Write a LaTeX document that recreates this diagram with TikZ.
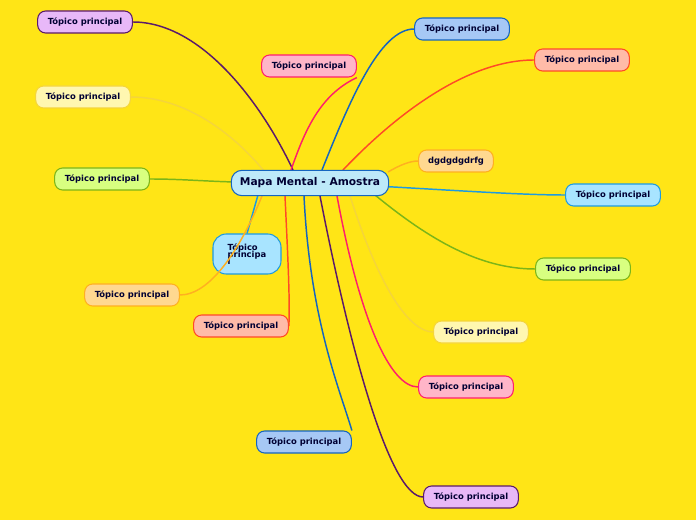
\documentclass[tikz,border=0pt]{standalone}
\usepackage{fontspec}
\setmainfont{DejaVu Sans}
\begin{document}
\begin{tikzpicture}[x=0.75pt,y=-0.75pt,
 tp/.style={draw=#1, line width=0.8pt, rounded corners=6pt, minimum width=71pt, minimum height=16.5pt, inner sep=1pt, font=\bfseries\fontsize{6.3}{7}\selectfont, text=black!80!blue},
 ln/.style={draw=#1, line width=1.1pt}]
\fill[yellow!90!orange!60!yellow] (0,0) rectangle (696,520);
\definecolor{bg}{HTML}{FFE516}
\fill[bg] (0,0) rectangle (696,520);
\useasboundingbox (0,0) rectangle (696,520);
\definecolor{purB}{HTML}{5B1A6B}\definecolor{purF}{HTML}{E8B8F8}
\definecolor{pinB}{HTML}{FF1F6B}\definecolor{pinF}{HTML}{FFB5C8}
\definecolor{bluB}{HTML}{1565C0}\definecolor{bluF}{HTML}{A6C8F5}
\definecolor{redB}{HTML}{FF4A26}\definecolor{redF}{HTML}{FFBBA8}
\definecolor{pylB}{HTML}{F5D53A}\definecolor{pylF}{HTML}{FFF7B0}
\definecolor{oraB}{HTML}{FFB020}\definecolor{oraF}{HTML}{FFD890}
\definecolor{grnB}{HTML}{7CB518}\definecolor{grnF}{HTML}{D8FF80}
\definecolor{cyaB}{HTML}{1E9BE0}\definecolor{cyaF}{HTML}{A8E4FF}
\definecolor{cenF}{HTML}{BDE9F9}
% starts
\coordinate (s1) at (293,170);\coordinate (s2) at (291,170);\coordinate (s3) at (322,170);
\coordinate (s4) at (343,170);\coordinate (s5) at (268,176);\coordinate (s6) at (388,172);
\coordinate (s7) at (234,182);\coordinate (s8) at (375,186);\coordinate (s9) at (375,195);
\coordinate (s10) at (258,195);\coordinate (s11) at (262,196);\coordinate (s12) at (285,196);
\coordinate (s13) at (350,196);\coordinate (s14) at (337,196);\coordinate (s15) at (304,196);
\coordinate (s16) at (320,196);
% nodes
\node[tp={purB},fill=purF,minimum width=71pt] (n1) at (85,22) {Tópico principal};
\node[tp={pinB},fill=pinF] (n2) at (309,66) {Tópico principal};
\node[tp={bluB},fill=bluF] (n3) at (462,29) {Tópico principal};
\node[tp={redB},fill=redF] (n4) at (582,60) {Tópico principal};
\node[tp={pylB},fill=pylF] (n5) at (83,97) {Tópico principal};
\node[tp={oraB},fill=oraF,minimum width=56pt] (n6) at (456,161) {dgdgdgdrfg};
\node[tp={grnB},fill=grnF] (n7) at (102,179) {Tópico principal};
\node[tp={cyaB},fill=cyaF] (n8) at (613,195) {Tópico principal};
\node[tp={cyaB},fill=cyaF,minimum width=51pt,minimum height=30pt,rounded corners=10pt,align=left] (n9) at (247,254) {Tópico\\[-2pt]principa\\[-2pt]l};
\node[tp={grnB},fill=grnF] (n10) at (583,269) {Tópico principal};
\node[tp={oraB},fill=oraF] (n11) at (132,295) {Tópico principal};
\node[tp={redB},fill=redF] (n12) at (241,326) {Tópico principal};
\node[tp={pylB},fill=pylF] (n13) at (481,332) {Tópico principal};
\node[tp={pinB},fill=pinF] (n14) at (466,387) {Tópico principal};
\node[tp={bluB},fill=bluF] (n15) at (304,442) {Tópico principal};
\node[tp={purB},fill=purF] (n16) at (471,497) {Tópico principal};
% connectors
\begin{scope}[on background layer/.style={}]
\draw[ln=purB] (s1) .. controls (260,100) and (200,22) .. (n1.east);
\draw[ln=pinB] (s2) .. controls (305,130) and (320,95) .. (n2.south east);
\draw[ln=bluB] (s3) .. controls (350,100) and (380,29) .. (n3.west);
\draw[ln=redB] (s4) .. controls (400,110) and (470,60) .. (n4.west);
\draw[ln=pylB] (s5) .. controls (240,140) and (190,97) .. (n5.east);
\draw[ln=oraB] (s6) .. controls (400,165) and (410,161) .. (n6.west);
\draw[ln=grnB] (s7) .. controls (200,181) and (180,179) .. (n7.east);
\draw[ln=cyaB] (s8) .. controls (450,190) and (520,195) .. (n8.west);
\draw[ln=grnB] (s9) .. controls (430,240) and (480,269) .. (n10.west);
\draw[ln=cyaB] (s10) -- (n9.north);
\draw[ln=oraB] (s11) .. controls (240,250) and (210,295) .. (n11.east);
\draw[ln=redB] (s12) .. controls (288,260) and (290,300) .. (n12.east);
\draw[ln=pylB] (s13) .. controls (380,290) and (410,332) .. (n13.west);
\draw[ln=pinB] (s14) .. controls (360,320) and (390,387) .. (n14.west);
\draw[ln=bluB] (s15) .. controls (310,320) and (340,390) .. (n15.north east);
\draw[ln=purB] (s16) .. controls (350,350) and (390,497) .. (n16.west);
\end{scope}
\node[tp={bluB},fill=cenF,minimum width=118pt,minimum height=19pt,rounded corners=8pt,font=\bfseries\fontsize{8}{9}\selectfont] (c) at (310,183) {Mapa Mental - Amostra};
\foreach \i in {1,...,16}{}
\end{tikzpicture}
\end{document}
